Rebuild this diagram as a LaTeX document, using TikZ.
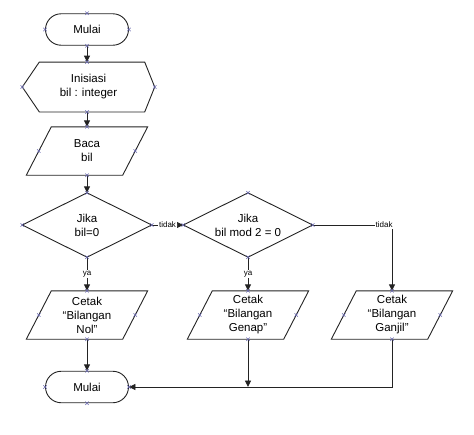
\documentclass[tikz,border=0pt]{standalone}
\usepackage{fontspec}
\setmainfont{Liberation Sans}
\usetikzlibrary{shapes.misc,arrows.meta,calc}
\definecolor{markcol}{RGB}{105,105,175}
\definecolor{linecol}{RGB}{35,35,35}
\tikzset{
  box/.style={draw=none,rectangle,inner sep=0pt,align=center,font=\fontsize{11.5}{14}\selectfont},
  term/.style={draw=linecol,line width=0.9pt,rounded rectangle,inner sep=0pt,minimum width=83pt,minimum height=31.5pt,font=\fontsize{11.5}{14}\selectfont},
  outline/.style={draw=linecol,line width=0.9pt,line join=miter},
  arr/.style={draw=linecol,line width=0.9pt,-{Triangle[length=6.5pt,width=6pt]}},
  lab/.style={fill=white,inner sep=1pt,font=\fontsize{8}{9.6}\selectfont},
  mk/.pic={\draw[markcol,line width=0.5pt] (-1.7,-1.7)--(1.7,1.7) (-1.7,1.7)--(1.7,-1.7);}
}
\begin{document}
\begin{tikzpicture}[x=1pt,y=-1pt]
\useasboundingbox (0,0) rectangle (474,434);
% nodes
\node[term] (t1) at (87,29.5) {Mulai};
\node[box,minimum width=132pt,minimum height=49.5pt] (h) at (88.5,87) {Inisiasi\\bil : integer};
\node[box,minimum width=121pt,minimum height=48pt] (b) at (87,151) {Baca\\bil};
\node[box,minimum width=129pt,minimum height=64pt] (d1) at (87,225) {Jika\\bil=0};
\node[box,minimum width=129pt,minimum height=64pt] (d2) at (248,225) {Jika\\bil mod 2 = 0};
\node[box,minimum width=121pt,minimum height=48pt] (p1) at (87,315) {Cetak\\“Bilangan\\Nol”};
\node[box,minimum width=121pt,minimum height=48pt] (p2) at (248,315) {Cetak\\“Bilangan\\Genap”};
\node[box,minimum width=121pt,minimum height=48pt] (p3) at (392,315) {Cetak\\“Bilangan\\Ganjil”};
\node[term] (t2) at (87,387) {Mulai};
% outlines
\draw[outline] (h.west) -- ([xshift=17pt]h.north west) -- ([xshift=-10pt]h.north east) -- (h.east)
  -- ([xshift=-10pt]h.south east) -- ([xshift=17pt]h.south west) -- cycle;
\foreach \p in {b,p1,p2,p3}{
  \draw[outline] ([xshift=25pt]\p.north west) -- (\p.north east) -- ([xshift=-25pt]\p.south east) -- (\p.south west) -- cycle;
}
\foreach \d in {d1,d2}{
  \draw[outline] (\d.north) -- (\d.east) -- (\d.south) -- (\d.west) -- cycle;
}
% connectors
\draw[arr] (t1.south) -- (t1.south |- h.north);
\draw[arr] (b.north |- h.south) -- (b.north);
\draw[arr] (b.south) -- (d1.north);
\draw[arr] (d1.east) -- node[lab] {tidak} (d2.west);
\draw[arr] (d1.south) -- node[lab] {ya} (p1.north);
\draw[arr] (d2.south) -- node[lab] {ya} (p2.north);
\draw[arr] (d2.east) -| node[lab,pos=0.45] {tidak} (p3.north);
\draw[arr] (p1.south) -- (t2.north);
\draw[arr] (p2.south) -- (p2.south |- t2.east);
\draw[arr] (p3.south) |- (t2.east);
% connection point markers
\foreach \t in {t1,t2}{
  \pic at (\t.north) {mk}; \pic at (\t.south) {mk}; \pic at (\t.east) {mk}; \pic at (\t.west) {mk};
}
\pic at (t1.south |- h.north) {mk}; \pic at (t1.south |- h.south) {mk};
\pic at (h.east) {mk}; \pic at (h.west) {mk};
\foreach \p in {b,p1,p2,p3}{
  \pic at (\p.north) {mk}; \pic at (\p.south) {mk};
  \pic at ([xshift=12.5pt]\p.west) {mk}; \pic at ([xshift=-12.5pt]\p.east) {mk};
}
\foreach \d in {d1,d2}{
  \pic at (\d.north) {mk}; \pic at (\d.south) {mk}; \pic at (\d.east) {mk}; \pic at (\d.west) {mk};
}
\end{tikzpicture}
\end{document}
